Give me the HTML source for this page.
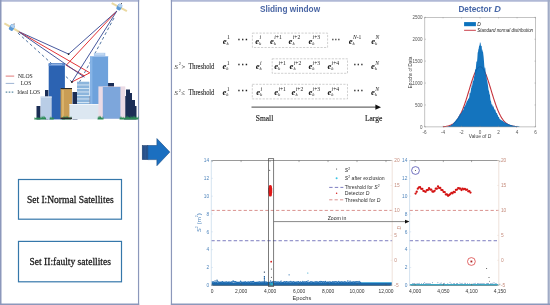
<!DOCTYPE html>
<html><head><meta charset="utf-8"><title>Figure</title>
<style>html,body{margin:0;padding:0;background:#fff;width:550px;height:305px;overflow:hidden}svg{display:block}</style>
</head><body>
<svg width="550" height="305" viewBox="0 0 550 305">
<rect width="550" height="305" fill="#fff"/>
<rect x="0" y="0" width="139" height="305" fill="#fff"/>
<line x1="0" y1="0.9" x2="139.2" y2="0.9" stroke="#b0b9d6" stroke-width="1.7"/>
<line x1="0.75" y1="0" x2="0.75" y2="305" stroke="#8c98bb" stroke-width="1.5"/>
<line x1="138.55" y1="0" x2="138.55" y2="305" stroke="#8c98bb" stroke-width="1.2"/>
<line x1="0" y1="304.3" x2="139.2" y2="304.3" stroke="#8c98bb" stroke-width="1.4"/>
<line x1="17.9" y1="33.0" x2="71.9" y2="82.0" stroke="#3f6797" stroke-width="0.9" stroke-dasharray="3,2.4"/>
<line x1="114.0" y1="18.0" x2="77.4" y2="86.0" stroke="#3f6797" stroke-width="0.9" stroke-dasharray="3,2.4"/>
<rect x="36.5" y="106" width="4" height="13.5" fill="#1b2d55"/>
<rect x="45" y="90" width="3.4" height="29.5" fill="#1b2d55"/>
<rect x="72.5" y="92" width="5" height="27.5" fill="#1b2d55"/>
<rect x="89.5" y="96" width="3" height="14" fill="#1b2d55"/>
<path d="M124 119.5 V96 h2 V89.5 h4 V93 h2 V100 h3 V106 h1.5 V119.5 Z" fill="#1b2d55"/>
<rect x="108" y="83" width="6" height="5" fill="#1b2d55"/>
<rect x="48.7" y="63.4" width="16.2" height="56" fill="#2c63b2"/>
<rect x="48.7" y="63.4" width="16.2" height="2.6" fill="#5d8bd0"/>
<rect x="51" y="64" width="11" height="1" fill="#8fb0e0"/>
<rect x="40.6" y="96.5" width="11.1" height="23" fill="#b9cde6"/>
<rect x="40.6" y="96.5" width="11.1" height="1.2" fill="#d6e2f1"/>
<rect x="60.6" y="88.0" width="11.4" height="30.8" fill="#c99d55"/>
<rect x="60.6" y="88.0" width="11.4" height="1.1" fill="#2a2a2a"/>
<rect x="62" y="90" width="2" height="27" fill="#dbb36a"/>
<rect x="90.2" y="56.0" width="17.9" height="49" fill="#6ea2dc"/>
<rect x="90.2" y="56.0" width="2.2" height="49" fill="#86b4e6"/>
<rect x="93.9" y="52.8" width="11.4" height="3.4" fill="#aecbee"/>
<rect x="95" y="53.6" width="9" height="0.8" fill="#d8e6f6"/>
<rect x="90.2" y="56.0" width="17.9" height="1.0" fill="#9cc0ea"/>
<rect x="77" y="81.7" width="12.4" height="23" fill="#8cb5dc"/>
<rect x="77" y="84.5" width="12.4" height="0.9" fill="#dbe9f5"/>
<rect x="77" y="88" width="12.4" height="0.9" fill="#dbe9f5"/>
<rect x="77" y="91.5" width="12.4" height="0.9" fill="#dbe9f5"/>
<rect x="77" y="95" width="12.4" height="0.9" fill="#dbe9f5"/>
<rect x="77" y="98.5" width="12.4" height="0.9" fill="#dbe9f5"/>
<rect x="77" y="102" width="12.4" height="0.9" fill="#dbe9f5"/>
<rect x="69.4" y="104" width="30" height="15.3" fill="#dce7f1"/>
<rect x="69.4" y="104" width="30" height="1" fill="#f2f6fa"/>
<rect x="98.4" y="86.4" width="26.9" height="32.4" fill="#ebdbe5"/>
<rect x="102.8" y="86.9" width="17.6" height="31.8" fill="#7da6db"/>
<polygon points="34.2,119.4 34.8,116.9 35.4,118.4 36.0,117.2 36.6,118.5 37.2,116.5 37.8,118.3 38.4,117.1 39.0,118.5 39.6,117.3 40.2,118.5 40.8,116.5 41.4,118.2 42.0,115.4 42.6,117.8 43.2,115.6 43.8,117.9 44.4,115.7 45.0,117.9 45.6,116.9 46.2,118.4 45.5,119.4" fill="#2b8a55"/>
<polygon points="49.5,119.4 50.1,116.2 50.7,118.1 51.3,116.8 51.9,118.4 52.5,117.0 53.1,118.4 53.7,117.2 54.3,118.5 53.5,119.4" fill="#2b8a55"/>
<polygon points="62.0,119.4 62.6,116.9 63.2,118.4 63.8,115.4 64.4,117.8 65.0,115.6 65.6,117.9 66.2,115.6 66.8,117.9 67.4,115.6 68.0,117.9 68.6,117.0 69.2,118.4 69.8,116.7 70.4,118.3 71.0,116.0 71.6,118.0 71.0,119.4" fill="#2b8a55"/>
<polygon points="97.5,119.4 98.1,115.8 98.7,118.0 99.3,115.5 99.9,117.8 100.5,115.5 101.1,117.8 101.7,117.2 102.3,118.5 102.9,116.1 103.5,118.1 103.5,119.4" fill="#2b8a55"/>
<polygon points="119.5,119.4 120.1,115.9 120.7,118.0 121.3,116.3 121.9,118.2 122.5,117.0 123.1,118.4 123.7,116.4 124.3,118.2 124.9,117.2 125.5,118.5 126.1,115.3 126.7,117.8 127.3,115.5 127.9,117.8 128.5,116.2 129.1,118.1 129.7,116.7 130.3,118.3 130.9,115.4 131.5,117.8 132.1,116.1 132.7,118.1 133.3,115.5 133.9,117.8 134.5,115.5 135.1,117.9 135.7,116.3 136.3,118.2 136.9,116.5 137.5,118.2 138.1,116.1 138.7,118.1 138.0,119.4" fill="#2b8a55"/>
<rect x="60.5" y="117.6" width="11.5" height="1.6" fill="#2a2a2a"/>
<line x1="17.9" y1="31.2" x2="68.6" y2="54.1" stroke="#3d4f98" stroke-width="0.95" stroke-opacity="1"/>
<line x1="116.8" y1="11.1" x2="68.6" y2="54.1" stroke="#3d4f98" stroke-width="0.95" stroke-opacity="1"/>
<line x1="17.9" y1="31.2" x2="89.8" y2="72.8" stroke="#e0282c" stroke-width="0.95" stroke-opacity="1"/>
<line x1="89.8" y1="72.8" x2="71.9" y2="82.0" stroke="#e0282c" stroke-width="0.95" stroke-opacity="1"/>
<line x1="116.8" y1="11.1" x2="66.2" y2="65.3" stroke="#e0282c" stroke-width="0.95" stroke-opacity="1"/>
<line x1="66.2" y1="65.3" x2="84.4" y2="75.9" stroke="#e0282c" stroke-width="0.95" stroke-opacity="1"/>
<line x1="17.9" y1="31.2" x2="84.4" y2="77.2" stroke="#3d4f98" stroke-width="0.95" stroke-opacity="1"/>
<line x1="116.8" y1="11.1" x2="71.9" y2="82.0" stroke="#3d4f98" stroke-width="0.95" stroke-opacity="1"/>
<circle cx="68.6" cy="54.1" r="0.9" fill="#1a1a1a"/>
<circle cx="71.9" cy="82.0" r="0.9" fill="#1a1a1a"/>
<g transform="translate(11.8,27.6) rotate(30)"><rect x="-8.6" y="-1.0" width="17.2" height="2.0" fill="#e6d292" opacity="0.85"/><rect x="-2.3" y="-3.3" width="4.6" height="6.4" rx="1.4" fill="#5c9ad6"/><rect x="-2.0" y="-3.2" width="4.0" height="3.0" rx="1.2" fill="#b4d2f0"/><circle cx="0.2" cy="-4.2" r="0.6" fill="#445"/></g>
<g transform="translate(119.3,7.2) rotate(28)"><rect x="-8.6" y="-1.0" width="17.2" height="2.0" fill="#e6d292" opacity="0.85"/><rect x="-2.3" y="-3.3" width="4.6" height="6.4" rx="1.4" fill="#5c9ad6"/><rect x="-2.0" y="-3.2" width="4.0" height="3.0" rx="1.2" fill="#b4d2f0"/><circle cx="0.2" cy="-4.2" r="0.6" fill="#445"/></g>
<line x1="5.7" y1="76.1" x2="14.2" y2="76.1" stroke="#e07a7a" stroke-width="1"/>
<line x1="5.7" y1="83.4" x2="14.2" y2="83.4" stroke="#9db3d3" stroke-width="1"/>
<line x1="5.7" y1="92.1" x2="14.2" y2="92.1" stroke="#2f6a8a" stroke-width="1" stroke-dasharray="1.6,1.4"/>
<text x="17.9" y="78.1" font-family='"Liberation Serif", serif' font-size="5.7" fill="#222">NLOS</text>
<text x="20.7" y="85.4" font-family='"Liberation Serif", serif' font-size="5.6" fill="#222">LOS</text>
<text x="17.2" y="94.1" font-family='"Liberation Serif", serif' font-size="5.56" fill="#222">Ideal LOS</text>
<rect x="18.5" y="179.5" width="103" height="39.7" fill="#fff" stroke="#3577aa" stroke-width="1.2"/>
<rect x="18.5" y="241.4" width="103" height="40.4" fill="#fff" stroke="#3577aa" stroke-width="1.2"/>
<text x="26.9" y="202.9" font-family='"Liberation Serif", serif' font-size="10.2" fill="#1a1a1a" stroke="#1a1a1a" stroke-width="0.28" textLength="86.7" lengthAdjust="spacingAndGlyphs">Set I:Normal Satellites</text>
<text x="29.5" y="264.9" font-family='"Liberation Serif", serif' font-size="10.2" fill="#1a1a1a" stroke="#1a1a1a" stroke-width="0.28" textLength="81.4" lengthAdjust="spacingAndGlyphs">Set II:faulty satellites</text>
<rect x="142.2" y="145.5" width="5.6" height="14.1" fill="#27518a" stroke="#1c3a64" stroke-width="0.5"/>
<line x1="145.2" y1="145.6" x2="145.2" y2="159.5" stroke="#3d6aa0" stroke-width="0.45"/>
<path d="M147.8 145.5 H156.9 V138.6 L169.8 152.1 L156.9 165.7 V159.6 H147.8 Z" fill="#1b6fc0" stroke="#1b4d86" stroke-width="0.6"/>
<line x1="170.9" y1="0.9" x2="550" y2="0.9" stroke="#b0b9d6" stroke-width="1.7"/>
<line x1="171.45" y1="0" x2="171.45" y2="305" stroke="#8c98bb" stroke-width="1.2"/>
<line x1="548.7" y1="0" x2="548.7" y2="305" stroke="#a0abc6" stroke-width="2.2"/>
<line x1="170.9" y1="304.3" x2="550" y2="304.3" stroke="#8c98bb" stroke-width="1.4"/>
<text x="259.9" y="11.9" font-family='"Liberation Sans", sans-serif' font-weight="bold" font-size="9.2" fill="#4a66a4" textLength="60.2" lengthAdjust="spacingAndGlyphs">Sliding window</text>
<rect x="252.4" y="33.1" width="75.20000000000002" height="14.399999999999999" fill="none" stroke="#b0b0b0" stroke-width="0.6" stroke-dasharray="2.2,1.3"/>
<text x="222.79999999999998" y="43.6" font-family='"Liberation Serif", serif' font-weight="bold" font-style="italic" font-size="8.9" fill="#1e1e1e">e</text>
<text x="227.0" y="39.2" font-family='"Liberation Serif", serif' font-size="5.6" fill="#1e1e1e">1</text>
<text x="226.6" y="45.1" font-family='"Liberation Serif", serif' font-style="italic" font-size="5.0" fill="#1e1e1e">k</text>
<text x="237.21" y="42.65" font-family='"DejaVu Sans", sans-serif' font-size="11" fill="#1e1e1e" stroke="#1e1e1e" stroke-width="0.2" textLength="11.13" lengthAdjust="spacingAndGlyphs">⋯</text>
<text x="255.2" y="43.6" font-family='"Liberation Serif", serif' font-weight="bold" font-style="italic" font-size="8.9" fill="#1e1e1e">e</text>
<text x="259.4" y="39.2" font-family='"Liberation Serif", serif' font-size="5.6" fill="#1e1e1e"><tspan font-style="italic">i</tspan></text>
<text x="259.0" y="45.1" font-family='"Liberation Serif", serif' font-style="italic" font-size="5.0" fill="#1e1e1e">k</text>
<text x="270.0" y="43.6" font-family='"Liberation Serif", serif' font-weight="bold" font-style="italic" font-size="8.9" fill="#1e1e1e">e</text>
<text x="274.2" y="39.2" font-family='"Liberation Serif", serif' font-size="5.6" fill="#1e1e1e"><tspan font-style="italic">i</tspan>+1</text>
<text x="273.8" y="45.1" font-family='"Liberation Serif", serif' font-style="italic" font-size="5.0" fill="#1e1e1e">k</text>
<text x="288.59999999999997" y="43.6" font-family='"Liberation Serif", serif' font-weight="bold" font-style="italic" font-size="8.9" fill="#1e1e1e">e</text>
<text x="292.79999999999995" y="39.2" font-family='"Liberation Serif", serif' font-size="5.6" fill="#1e1e1e"><tspan font-style="italic">i</tspan>+2</text>
<text x="292.4" y="45.1" font-family='"Liberation Serif", serif' font-style="italic" font-size="5.0" fill="#1e1e1e">k</text>
<text x="308.4" y="43.6" font-family='"Liberation Serif", serif' font-weight="bold" font-style="italic" font-size="8.9" fill="#1e1e1e">e</text>
<text x="312.59999999999997" y="39.2" font-family='"Liberation Serif", serif' font-size="5.6" fill="#1e1e1e"><tspan font-style="italic">i</tspan>+3</text>
<text x="312.2" y="45.1" font-family='"Liberation Serif", serif' font-style="italic" font-size="5.0" fill="#1e1e1e">k</text>
<text x="331.49" y="42.65" font-family='"DejaVu Sans", sans-serif' font-size="11" fill="#1e1e1e" stroke="#1e1e1e" stroke-width="0.2" textLength="8.87" lengthAdjust="spacingAndGlyphs">⋯</text>
<text x="348.7" y="43.6" font-family='"Liberation Serif", serif' font-weight="bold" font-style="italic" font-size="8.9" fill="#1e1e1e">e</text>
<text x="352.9" y="39.2" font-family='"Liberation Serif", serif' font-size="5.6" fill="#1e1e1e"><tspan font-style="italic">N</tspan>-1</text>
<text x="352.5" y="45.1" font-family='"Liberation Serif", serif' font-style="italic" font-size="5.0" fill="#1e1e1e">k</text>
<text x="371.2" y="43.6" font-family='"Liberation Serif", serif' font-weight="bold" font-style="italic" font-size="8.9" fill="#1e1e1e">e</text>
<text x="375.4" y="39.2" font-family='"Liberation Serif", serif' font-size="5.6" fill="#1e1e1e"><tspan font-style="italic">N</tspan></text>
<text x="375.0" y="45.1" font-family='"Liberation Serif", serif' font-style="italic" font-size="5.0" fill="#1e1e1e">k</text>
<text x="174.4" y="68.6" font-family='"Liberation Serif", serif' font-style="italic" font-size="6.8" fill="#1e1e1e">S</text>
<text x="178.7" y="65.2" font-family='"Liberation Serif", serif' font-size="4.2" fill="#1e1e1e">2</text>
<text x="181.5" y="68.6" font-family='"Liberation Serif", serif' font-size="6.8" fill="#1e1e1e">&gt;</text>
<text x="188.4" y="68.6" font-family='"Liberation Serif", serif' font-size="7.3" fill="#1e1e1e" stroke="#1e1e1e" stroke-width="0.1" textLength="25.9" lengthAdjust="spacingAndGlyphs">Threshold</text>
<rect x="272.2" y="58.8" width="75.30000000000001" height="14.5" fill="none" stroke="#b0b0b0" stroke-width="0.6" stroke-dasharray="2.2,1.3"/>
<text x="222.5" y="68.89999999999999" font-family='"Liberation Serif", serif' font-weight="bold" font-style="italic" font-size="8.9" fill="#1e1e1e">e</text>
<text x="226.70000000000002" y="64.5" font-family='"Liberation Serif", serif' font-size="5.6" fill="#1e1e1e">1</text>
<text x="226.3" y="70.39999999999999" font-family='"Liberation Serif", serif' font-style="italic" font-size="5.0" fill="#1e1e1e">k</text>
<text x="237.21" y="67.95" font-family='"DejaVu Sans", sans-serif' font-size="11" fill="#1e1e1e" stroke="#1e1e1e" stroke-width="0.2" textLength="11.13" lengthAdjust="spacingAndGlyphs">⋯</text>
<text x="255.79999999999998" y="68.89999999999999" font-family='"Liberation Serif", serif' font-weight="bold" font-style="italic" font-size="8.9" fill="#1e1e1e">e</text>
<text x="260.0" y="64.5" font-family='"Liberation Serif", serif' font-size="5.6" fill="#1e1e1e"><tspan font-style="italic">i</tspan></text>
<text x="259.6" y="70.39999999999999" font-family='"Liberation Serif", serif' font-style="italic" font-size="5.0" fill="#1e1e1e">k</text>
<text x="274.2" y="68.89999999999999" font-family='"Liberation Serif", serif' font-weight="bold" font-style="italic" font-size="8.9" fill="#1e1e1e">e</text>
<text x="278.4" y="64.5" font-family='"Liberation Serif", serif' font-size="5.6" fill="#1e1e1e"><tspan font-style="italic">i</tspan>+1</text>
<text x="278.0" y="70.39999999999999" font-family='"Liberation Serif", serif' font-style="italic" font-size="5.0" fill="#1e1e1e">k</text>
<text x="289.59999999999997" y="68.89999999999999" font-family='"Liberation Serif", serif' font-weight="bold" font-style="italic" font-size="8.9" fill="#1e1e1e">e</text>
<text x="293.79999999999995" y="64.5" font-family='"Liberation Serif", serif' font-size="5.6" fill="#1e1e1e"><tspan font-style="italic">i</tspan>+2</text>
<text x="293.4" y="70.39999999999999" font-family='"Liberation Serif", serif' font-style="italic" font-size="5.0" fill="#1e1e1e">k</text>
<text x="308.4" y="68.89999999999999" font-family='"Liberation Serif", serif' font-weight="bold" font-style="italic" font-size="8.9" fill="#1e1e1e">e</text>
<text x="312.59999999999997" y="64.5" font-family='"Liberation Serif", serif' font-size="5.6" fill="#1e1e1e"><tspan font-style="italic">i</tspan>+3</text>
<text x="312.2" y="70.39999999999999" font-family='"Liberation Serif", serif' font-style="italic" font-size="5.0" fill="#1e1e1e">k</text>
<text x="327.4" y="68.89999999999999" font-family='"Liberation Serif", serif' font-weight="bold" font-style="italic" font-size="8.9" fill="#1e1e1e">e</text>
<text x="331.59999999999997" y="64.5" font-family='"Liberation Serif", serif' font-size="5.6" fill="#1e1e1e"><tspan font-style="italic">i</tspan>+4</text>
<text x="331.2" y="70.39999999999999" font-family='"Liberation Serif", serif' font-style="italic" font-size="5.0" fill="#1e1e1e">k</text>
<text x="353.30" y="67.95" font-family='"DejaVu Sans", sans-serif' font-size="11" fill="#1e1e1e" stroke="#1e1e1e" stroke-width="0.2" textLength="10.42" lengthAdjust="spacingAndGlyphs">⋯</text>
<text x="371.0" y="68.89999999999999" font-family='"Liberation Serif", serif' font-weight="bold" font-style="italic" font-size="8.9" fill="#1e1e1e">e</text>
<text x="375.2" y="64.5" font-family='"Liberation Serif", serif' font-size="5.6" fill="#1e1e1e"><tspan font-style="italic">N</tspan></text>
<text x="374.8" y="70.39999999999999" font-family='"Liberation Serif", serif' font-style="italic" font-size="5.0" fill="#1e1e1e">k</text>
<text x="174.4" y="95.1" font-family='"Liberation Serif", serif' font-style="italic" font-size="6.8" fill="#1e1e1e">S</text>
<text x="178.7" y="91.7" font-family='"Liberation Serif", serif' font-size="4.2" fill="#1e1e1e">2</text>
<text x="181.3" y="95.1" font-family='"Liberation Serif", serif' font-size="6.8" fill="#1e1e1e">≤</text>
<text x="188.4" y="95.1" font-family='"Liberation Serif", serif' font-size="7.3" fill="#1e1e1e" stroke="#1e1e1e" stroke-width="0.1" textLength="25.9" lengthAdjust="spacingAndGlyphs">Threshold</text>
<rect x="252.3" y="84.3" width="95.19999999999999" height="14.600000000000009" fill="none" stroke="#b0b0b0" stroke-width="0.6" stroke-dasharray="2.2,1.3"/>
<text x="222.5" y="94.89999999999999" font-family='"Liberation Serif", serif' font-weight="bold" font-style="italic" font-size="8.9" fill="#1e1e1e">e</text>
<text x="226.70000000000002" y="90.5" font-family='"Liberation Serif", serif' font-size="5.6" fill="#1e1e1e">1</text>
<text x="226.3" y="96.39999999999999" font-family='"Liberation Serif", serif' font-style="italic" font-size="5.0" fill="#1e1e1e">k</text>
<text x="237.21" y="93.95" font-family='"DejaVu Sans", sans-serif' font-size="11" fill="#1e1e1e" stroke="#1e1e1e" stroke-width="0.2" textLength="11.13" lengthAdjust="spacingAndGlyphs">⋯</text>
<text x="256.2" y="94.89999999999999" font-family='"Liberation Serif", serif' font-weight="bold" font-style="italic" font-size="8.9" fill="#1e1e1e">e</text>
<text x="260.4" y="90.5" font-family='"Liberation Serif", serif' font-size="5.6" fill="#1e1e1e"><tspan font-style="italic">i</tspan></text>
<text x="260.0" y="96.39999999999999" font-family='"Liberation Serif", serif' font-style="italic" font-size="5.0" fill="#1e1e1e">k</text>
<text x="274.2" y="94.89999999999999" font-family='"Liberation Serif", serif' font-weight="bold" font-style="italic" font-size="8.9" fill="#1e1e1e">e</text>
<text x="278.4" y="90.5" font-family='"Liberation Serif", serif' font-size="5.6" fill="#1e1e1e"><tspan font-style="italic">i</tspan>+1</text>
<text x="278.0" y="96.39999999999999" font-family='"Liberation Serif", serif' font-style="italic" font-size="5.0" fill="#1e1e1e">k</text>
<text x="291.59999999999997" y="94.89999999999999" font-family='"Liberation Serif", serif' font-weight="bold" font-style="italic" font-size="8.9" fill="#1e1e1e">e</text>
<text x="295.79999999999995" y="90.5" font-family='"Liberation Serif", serif' font-size="5.6" fill="#1e1e1e"><tspan font-style="italic">i</tspan>+2</text>
<text x="295.4" y="96.39999999999999" font-family='"Liberation Serif", serif' font-style="italic" font-size="5.0" fill="#1e1e1e">k</text>
<text x="308.4" y="94.89999999999999" font-family='"Liberation Serif", serif' font-weight="bold" font-style="italic" font-size="8.9" fill="#1e1e1e">e</text>
<text x="312.59999999999997" y="90.5" font-family='"Liberation Serif", serif' font-size="5.6" fill="#1e1e1e"><tspan font-style="italic">i</tspan>+3</text>
<text x="312.2" y="96.39999999999999" font-family='"Liberation Serif", serif' font-style="italic" font-size="5.0" fill="#1e1e1e">k</text>
<text x="327.4" y="94.89999999999999" font-family='"Liberation Serif", serif' font-weight="bold" font-style="italic" font-size="8.9" fill="#1e1e1e">e</text>
<text x="331.59999999999997" y="90.5" font-family='"Liberation Serif", serif' font-size="5.6" fill="#1e1e1e"><tspan font-style="italic">i</tspan>+4</text>
<text x="331.2" y="96.39999999999999" font-family='"Liberation Serif", serif' font-style="italic" font-size="5.0" fill="#1e1e1e">k</text>
<text x="353.30" y="93.95" font-family='"DejaVu Sans", sans-serif' font-size="11" fill="#1e1e1e" stroke="#1e1e1e" stroke-width="0.2" textLength="10.42" lengthAdjust="spacingAndGlyphs">⋯</text>
<text x="371.0" y="94.89999999999999" font-family='"Liberation Serif", serif' font-weight="bold" font-style="italic" font-size="8.9" fill="#1e1e1e">e</text>
<text x="375.2" y="90.5" font-family='"Liberation Serif", serif' font-size="5.6" fill="#1e1e1e"><tspan font-style="italic">N</tspan></text>
<text x="374.8" y="96.39999999999999" font-family='"Liberation Serif", serif' font-style="italic" font-size="5.0" fill="#1e1e1e">k</text>
<line x1="251.5" y1="107.2" x2="377" y2="107.2" stroke="#6a6a6a" stroke-width="1.25"/>
<path d="M381.0 107.2 L375.4 104.5 L375.4 109.8 Z" fill="#111"/>
<text x="255.8" y="121.1" font-family='"Liberation Serif", serif' font-size="7.8" fill="#1e1e1e" stroke="#1e1e1e" stroke-width="0.15" textLength="17.5" lengthAdjust="spacingAndGlyphs">Small</text>
<text x="364.9" y="121.1" font-family='"Liberation Serif", serif' font-size="7.8" fill="#1e1e1e" stroke="#1e1e1e" stroke-width="0.15" textLength="17.5" lengthAdjust="spacingAndGlyphs">Large</text>
<text x="458.4" y="11.7" font-family='"Liberation Sans", sans-serif' font-weight="bold" font-size="9.2" fill="#4767a8" textLength="33.4" lengthAdjust="spacingAndGlyphs">Detector</text>
<text x="494.2" y="11.7" font-family='"Liberation Sans", sans-serif' font-weight="bold" font-style="italic" font-size="9.2" fill="#4767a8">D</text>
<polyline points="443.00,126.68 443.37,126.65 443.74,126.62 444.11,126.59 444.48,126.56 444.85,126.52 445.22,126.48 445.59,126.43 445.96,126.38 446.33,126.32 446.70,126.26 447.07,126.19 447.44,126.12 447.81,126.04 448.18,125.95 448.55,125.86 448.92,125.75 449.29,125.64 449.66,125.52 450.03,125.39 450.40,125.24 450.77,125.09 451.14,124.92 451.51,124.75 451.88,124.55 452.25,124.35 452.62,124.12 452.99,123.89 453.36,123.63 453.73,123.36 454.10,123.07 454.47,122.76 454.84,122.43 455.21,122.08 455.58,121.70 455.95,121.31 456.32,120.89 456.69,120.45 457.06,119.98 457.43,119.48 457.80,118.96 458.17,118.42 458.54,117.84 458.91,117.24 459.28,116.61 459.65,115.95 460.02,115.26 460.39,114.54 460.76,113.79 461.13,113.01 461.50,112.20 461.87,111.36 462.24,110.49 462.61,109.60 462.98,108.67 463.35,107.71 463.72,106.73 464.09,105.72 464.46,104.69 464.83,103.63 465.20,102.55 465.57,101.44 465.94,100.32 466.31,99.18 466.68,98.01 467.05,96.84 467.42,95.65 467.79,94.45 468.16,93.24 468.53,92.03 468.90,90.81 469.27,89.60 469.64,88.38 470.01,87.17 470.38,85.96 470.75,84.77 471.12,83.59 471.49,82.43 471.86,81.28 472.23,80.16 472.60,79.07 472.97,78.00 473.34,76.97 473.71,75.97 474.08,75.01 474.45,74.08 474.82,73.21 475.19,72.38 475.56,71.59 475.93,70.86 476.30,70.19 476.67,69.57 477.04,69.00 477.41,68.50 477.78,68.06 478.15,67.68 478.52,67.36 478.89,67.11 479.26,66.92 479.63,66.81 480.00,66.75 480.37,66.77 480.74,66.85 481.11,67.00 481.48,67.22 481.85,67.50 482.22,67.84 482.59,68.25 482.96,68.72 483.33,69.25 483.70,69.84 484.07,70.49 484.44,71.19 484.81,71.95 485.18,72.75 485.55,73.60 485.92,74.50 486.29,75.44 486.66,76.42 487.03,77.44 487.40,78.49 487.77,79.57 488.14,80.67 488.51,81.81 488.88,82.96 489.25,84.13 489.62,85.32 489.99,86.52 490.36,87.72 490.73,88.94 491.10,90.15 491.47,91.37 491.84,92.59 492.21,93.80 492.58,95.00 492.95,96.20 493.32,97.38 493.69,98.55 494.06,99.70 494.43,100.84 494.80,101.95 495.17,103.05 495.54,104.12 495.91,105.17 496.28,106.19 496.65,107.19 497.02,108.16 497.39,109.10 497.76,110.01 498.13,110.90 498.50,111.75 498.87,112.58 499.24,113.37 499.61,114.14 499.98,114.87 500.35,115.58 500.72,116.25 501.09,116.90 501.46,117.52 501.83,118.11 502.20,118.67 502.57,119.21 502.94,119.71 503.31,120.20 503.68,120.65 504.05,121.08 504.42,121.49 504.79,121.88 505.16,122.24 505.53,122.58 505.90,122.90 506.27,123.20 506.64,123.49 507.01,123.75 507.38,124.00 507.75,124.23 508.12,124.44 508.49,124.64 508.86,124.83 509.23,125.00 509.60,125.16 509.97,125.31 510.34,125.45 510.71,125.58 511.08,125.69 511.45,125.80 511.82,125.90 512.19,125.99 512.56,126.08 512.93,126.15 513.30,126.22 513.67,126.29 514.04,126.35 514.41,126.40 514.78,126.45 515.15,126.50 515.52,126.54 515.89,126.57 516.26,126.61 516.63,126.64 517.00,126.67" fill="none" stroke="#c5323b" stroke-width="1.1"/>
<path d="M447.00,126.9 L447.00,126.90 L447.33,126.79 L447.66,126.68 L447.99,126.57 L448.32,126.46 L448.65,126.34 L448.98,126.21 L449.31,126.08 L449.64,125.94 L449.97,125.81 L450.30,125.68 L450.63,125.51 L450.96,125.28 L451.29,125.05 L451.62,124.76 L451.95,124.60 L452.28,124.32 L452.61,124.17 L452.94,123.88 L453.27,123.24 L453.60,122.80 L453.93,122.79 L454.26,122.08 L454.59,121.65 L454.92,121.74 L455.25,120.98 L455.58,120.86 L455.91,120.18 L456.24,119.91 L456.57,119.04 L456.90,119.00 L457.23,118.77 L457.56,117.93 L457.89,117.70 L458.22,117.15 L458.55,115.92 L458.88,116.32 L459.21,115.63 L459.54,114.74 L459.87,113.85 L460.20,114.59 L460.53,113.47 L460.86,113.36 L461.19,113.13 L461.52,112.34 L461.85,112.22 L462.18,110.72 L462.51,110.99 L462.84,109.77 L463.17,110.28 L463.50,109.62 L463.83,107.23 L464.16,106.63 L464.49,106.14 L464.82,107.32 L465.15,105.34 L465.48,105.18 L465.81,103.64 L466.14,103.38 L466.47,102.15 L466.80,101.15 L467.13,100.99 L467.46,100.13 L467.79,100.42 L468.12,98.91 L468.45,99.01 L468.78,98.01 L469.11,97.75 L469.44,95.80 L469.77,92.36 L470.10,93.61 L470.43,92.55 L470.76,90.92 L471.09,88.29 L471.42,87.77 L471.75,84.40 L472.08,85.98 L472.41,83.69 L472.74,81.26 L473.07,79.03 L473.40,81.22 L473.73,80.54 L474.06,75.29 L474.39,77.14 L474.72,73.68 L475.05,70.11 L475.38,69.05 L475.71,69.44 L476.04,65.85 L476.37,62.08 L476.70,61.19 L477.03,61.69 L477.36,57.99 L477.69,52.56 L478.02,51.90 L478.35,49.46 L478.68,48.67 L479.01,46.33 L479.34,45.82 L479.67,44.80 L480.00,41.99 L480.33,42.67 L480.66,43.50 L480.99,46.08 L481.32,46.00 L481.65,45.41 L481.98,50.85 L482.31,48.97 L482.64,51.65 L482.97,51.58 L483.30,54.17 L483.63,56.93 L483.96,60.98 L484.29,65.73 L484.62,68.92 L484.95,66.89 L485.28,68.19 L485.61,72.03 L485.94,75.02 L486.27,74.35 L486.60,77.35 L486.93,80.05 L487.26,80.95 L487.59,83.26 L487.92,85.15 L488.25,87.52 L488.58,90.45 L488.91,90.52 L489.24,92.21 L489.57,95.14 L489.90,93.85 L490.23,97.93 L490.56,100.52 L490.89,100.87 L491.22,102.31 L491.55,105.06 L491.88,104.06 L492.21,104.45 L492.54,105.62 L492.87,106.79 L493.20,105.85 L493.53,106.91 L493.86,107.46 L494.19,109.10 L494.52,108.74 L494.85,110.25 L495.18,109.52 L495.51,110.54 L495.84,111.80 L496.17,112.88 L496.50,112.79 L496.83,113.10 L497.16,113.64 L497.49,114.88 L497.82,114.99 L498.15,116.40 L498.48,116.99 L498.81,116.79 L499.14,117.49 L499.47,118.63 L499.80,119.03 L500.13,119.75 L500.46,119.61 L500.79,119.62 L501.12,119.95 L501.45,120.54 L501.78,120.32 L502.11,120.56 L502.44,120.80 L502.77,120.99 L503.10,121.17 L503.43,121.70 L503.76,121.39 L504.09,121.49 L504.42,122.24 L504.75,122.38 L505.08,122.62 L505.41,122.50 L505.74,122.95 L506.07,123.12 L506.40,122.97 L506.73,123.39 L507.06,123.61 L507.39,123.72 L507.72,123.85 L508.05,123.94 L508.38,124.07 L508.71,124.14 L509.04,124.20 L509.37,124.46 L509.70,124.48 L510.03,124.73 L510.36,124.64 L510.69,124.96 L511.02,124.97 L511.35,125.07 L511.68,125.18 L512.01,125.28 L512.34,125.39 L512.67,125.49 L513.00,125.60 L513.33,125.65 L513.66,125.70 L513.99,125.74 L514.32,125.79 L514.65,125.84 L514.98,125.89 L515.31,125.94 L515.64,125.98 L515.97,126.03 L516.30,126.08 L516.63,126.13 L516.96,126.18 L517.29,126.22 L517.62,126.27 L517.95,126.32 L518.28,126.37 L518.61,126.44 L518.94,126.55 L519.27,126.66 L519.60,126.77 L519.93,126.88 L520.0,126.9 Z" fill="#0068b8" fill-opacity="0.92"/>
<rect x="424.8" y="17.3" width="110.80000000000001" height="109.60000000000001" fill="none" stroke="#9c9c9c" stroke-width="0.6"/>
<line x1="424.8" y1="126.90" x2="425.90000000000003" y2="126.90" stroke="#8a8a8a" stroke-width="0.5"/>
<line x1="535.6" y1="126.90" x2="534.5" y2="126.90" stroke="#8a8a8a" stroke-width="0.5"/>
<text x="422.6" y="128.90" text-anchor="end" font-family='"Liberation Sans", sans-serif' font-size="4.5" fill="#555">0</text>
<line x1="424.8" y1="104.98" x2="425.90000000000003" y2="104.98" stroke="#8a8a8a" stroke-width="0.5"/>
<line x1="535.6" y1="104.98" x2="534.5" y2="104.98" stroke="#8a8a8a" stroke-width="0.5"/>
<text x="422.6" y="106.98" text-anchor="end" font-family='"Liberation Sans", sans-serif' font-size="4.5" fill="#555">500</text>
<line x1="424.8" y1="83.06" x2="425.90000000000003" y2="83.06" stroke="#8a8a8a" stroke-width="0.5"/>
<line x1="535.6" y1="83.06" x2="534.5" y2="83.06" stroke="#8a8a8a" stroke-width="0.5"/>
<text x="422.6" y="85.06" text-anchor="end" font-family='"Liberation Sans", sans-serif' font-size="4.5" fill="#555">1000</text>
<line x1="424.8" y1="61.14" x2="425.90000000000003" y2="61.14" stroke="#8a8a8a" stroke-width="0.5"/>
<line x1="535.6" y1="61.14" x2="534.5" y2="61.14" stroke="#8a8a8a" stroke-width="0.5"/>
<text x="422.6" y="63.14" text-anchor="end" font-family='"Liberation Sans", sans-serif' font-size="4.5" fill="#555">1500</text>
<line x1="424.8" y1="39.22" x2="425.90000000000003" y2="39.22" stroke="#8a8a8a" stroke-width="0.5"/>
<line x1="535.6" y1="39.22" x2="534.5" y2="39.22" stroke="#8a8a8a" stroke-width="0.5"/>
<text x="422.6" y="41.22" text-anchor="end" font-family='"Liberation Sans", sans-serif' font-size="4.5" fill="#555">2000</text>
<line x1="424.8" y1="17.30" x2="425.90000000000003" y2="17.30" stroke="#8a8a8a" stroke-width="0.5"/>
<line x1="535.6" y1="17.30" x2="534.5" y2="17.30" stroke="#8a8a8a" stroke-width="0.5"/>
<text x="422.6" y="19.30" text-anchor="end" font-family='"Liberation Sans", sans-serif' font-size="4.5" fill="#555">2500</text>
<line x1="424.55" y1="126.9" x2="424.55" y2="125.80000000000001" stroke="#8a8a8a" stroke-width="0.5"/>
<line x1="424.55" y1="17.3" x2="424.55" y2="18.400000000000002" stroke="#8a8a8a" stroke-width="0.5"/>
<text x="424.55" y="134.0" text-anchor="middle" font-family='"Liberation Sans", sans-serif' font-size="4.6" fill="#555">-6</text>
<line x1="443.05" y1="126.9" x2="443.05" y2="125.80000000000001" stroke="#8a8a8a" stroke-width="0.5"/>
<line x1="443.05" y1="17.3" x2="443.05" y2="18.400000000000002" stroke="#8a8a8a" stroke-width="0.5"/>
<text x="443.05" y="134.0" text-anchor="middle" font-family='"Liberation Sans", sans-serif' font-size="4.6" fill="#555">-4</text>
<line x1="461.55" y1="126.9" x2="461.55" y2="125.80000000000001" stroke="#8a8a8a" stroke-width="0.5"/>
<line x1="461.55" y1="17.3" x2="461.55" y2="18.400000000000002" stroke="#8a8a8a" stroke-width="0.5"/>
<text x="461.55" y="134.0" text-anchor="middle" font-family='"Liberation Sans", sans-serif' font-size="4.6" fill="#555">-2</text>
<line x1="480.05" y1="126.9" x2="480.05" y2="125.80000000000001" stroke="#8a8a8a" stroke-width="0.5"/>
<line x1="480.05" y1="17.3" x2="480.05" y2="18.400000000000002" stroke="#8a8a8a" stroke-width="0.5"/>
<text x="480.05" y="134.0" text-anchor="middle" font-family='"Liberation Sans", sans-serif' font-size="4.6" fill="#555">0</text>
<line x1="498.55" y1="126.9" x2="498.55" y2="125.80000000000001" stroke="#8a8a8a" stroke-width="0.5"/>
<line x1="498.55" y1="17.3" x2="498.55" y2="18.400000000000002" stroke="#8a8a8a" stroke-width="0.5"/>
<text x="498.55" y="134.0" text-anchor="middle" font-family='"Liberation Sans", sans-serif' font-size="4.6" fill="#555">2</text>
<line x1="517.05" y1="126.9" x2="517.05" y2="125.80000000000001" stroke="#8a8a8a" stroke-width="0.5"/>
<line x1="517.05" y1="17.3" x2="517.05" y2="18.400000000000002" stroke="#8a8a8a" stroke-width="0.5"/>
<text x="517.05" y="134.0" text-anchor="middle" font-family='"Liberation Sans", sans-serif' font-size="4.6" fill="#555">4</text>
<line x1="535.55" y1="126.9" x2="535.55" y2="125.80000000000001" stroke="#8a8a8a" stroke-width="0.5"/>
<line x1="535.55" y1="17.3" x2="535.55" y2="18.400000000000002" stroke="#8a8a8a" stroke-width="0.5"/>
<text x="535.55" y="134.0" text-anchor="middle" font-family='"Liberation Sans", sans-serif' font-size="4.6" fill="#555">6</text>
<text x="480.0" y="138.1" text-anchor="middle" font-family='"Liberation Sans", sans-serif' font-size="4.9" fill="#444">Value of <tspan font-style="italic">D</tspan></text>
<text transform="translate(412.4,72.5) rotate(-90)" text-anchor="middle" font-family='"Liberation Sans", sans-serif' font-size="4.6" fill="#444">Epochs of Data</text>
<rect x="464.1" y="22.1" width="11.8" height="4.1" fill="#0b72bd"/>
<line x1="464.1" y1="30.3" x2="475.9" y2="30.3" stroke="#c63640" stroke-width="0.95"/>
<text x="477.3" y="26.0" font-family='"Liberation Sans", sans-serif' font-style="italic" font-size="4.9" fill="#222">D</text>
<text x="477.3" y="32.1" font-family='"Liberation Sans", sans-serif' font-style="italic" font-size="4.9" fill="#222" textLength="55.8" lengthAdjust="spacingAndGlyphs">Standard normal distribution</text>
<line x1="211.3" y1="240.73" x2="392.2" y2="240.73" stroke="#7676bd" stroke-width="0.95" stroke-dasharray="3.4,2.2"/>
<line x1="211.3" y1="210.42" x2="392.2" y2="210.42" stroke="#cc6e6a" stroke-width="0.75" stroke-dasharray="3.2,2.2"/>
<line x1="409.6" y1="240.73" x2="498.8" y2="240.73" stroke="#7676bd" stroke-width="0.95" stroke-dasharray="3.4,2.2"/>
<line x1="409.6" y1="210.42" x2="498.8" y2="210.42" stroke="#cc6e6a" stroke-width="0.75" stroke-dasharray="3.2,2.2"/>
<rect x="211.60000000000002" y="282.5" width="180.29999999999998" height="3.2" fill="#1a69ae"/>
<rect x="361.3" y="282.0" width="30.599999999999966" height="0.8" fill="#4fb2dc"/>
<g fill="#1d6cb3"><circle cx="212.10" cy="281.89" r="0.7"/><circle cx="212.85" cy="282.31" r="0.7"/><circle cx="213.60" cy="281.84" r="0.7"/><circle cx="214.35" cy="282.47" r="0.7"/><circle cx="215.10" cy="280.99" r="0.7"/><circle cx="215.85" cy="282.43" r="0.7"/><circle cx="216.60" cy="282.29" r="0.7"/><circle cx="217.35" cy="281.13" r="0.7"/><circle cx="218.10" cy="282.13" r="0.7"/><circle cx="218.85" cy="282.01" r="0.7"/><circle cx="219.60" cy="282.33" r="0.7"/><circle cx="220.35" cy="282.47" r="0.7"/><circle cx="221.10" cy="281.95" r="0.7"/><circle cx="221.85" cy="282.40" r="0.7"/><circle cx="222.60" cy="281.79" r="0.7"/><circle cx="223.35" cy="282.41" r="0.7"/><circle cx="224.10" cy="282.11" r="0.7"/><circle cx="224.85" cy="282.39" r="0.7"/><circle cx="225.60" cy="282.08" r="0.7"/><circle cx="226.35" cy="281.84" r="0.7"/><circle cx="227.10" cy="282.45" r="0.7"/><circle cx="227.85" cy="282.31" r="0.7"/><circle cx="228.60" cy="282.22" r="0.7"/><circle cx="229.35" cy="282.09" r="0.7"/><circle cx="230.10" cy="282.16" r="0.7"/><circle cx="230.85" cy="282.50" r="0.7"/><circle cx="231.60" cy="281.91" r="0.7"/><circle cx="232.35" cy="281.90" r="0.7"/><circle cx="233.10" cy="280.97" r="0.7"/><circle cx="233.85" cy="281.38" r="0.7"/><circle cx="234.60" cy="281.87" r="0.7"/><circle cx="235.35" cy="281.67" r="0.7"/><circle cx="236.10" cy="282.17" r="0.7"/><circle cx="236.85" cy="282.19" r="0.7"/><circle cx="237.60" cy="282.39" r="0.7"/><circle cx="238.35" cy="282.35" r="0.7"/><circle cx="239.10" cy="282.30" r="0.7"/><circle cx="239.85" cy="282.34" r="0.7"/><circle cx="240.60" cy="281.18" r="0.7"/><circle cx="241.35" cy="282.24" r="0.7"/><circle cx="242.10" cy="282.27" r="0.7"/><circle cx="242.85" cy="282.36" r="0.7"/><circle cx="243.60" cy="282.32" r="0.7"/><circle cx="244.35" cy="282.46" r="0.7"/><circle cx="245.10" cy="281.64" r="0.7"/><circle cx="245.85" cy="282.31" r="0.7"/><circle cx="246.60" cy="282.40" r="0.7"/><circle cx="247.35" cy="282.11" r="0.7"/><circle cx="248.10" cy="282.21" r="0.7"/><circle cx="248.85" cy="281.85" r="0.7"/><circle cx="249.60" cy="282.43" r="0.7"/><circle cx="250.35" cy="281.88" r="0.7"/><circle cx="251.10" cy="281.60" r="0.7"/><circle cx="251.85" cy="282.20" r="0.7"/><circle cx="252.60" cy="281.74" r="0.7"/><circle cx="253.35" cy="281.52" r="0.7"/><circle cx="254.10" cy="282.18" r="0.7"/><circle cx="254.85" cy="282.39" r="0.7"/><circle cx="255.60" cy="282.41" r="0.7"/><circle cx="256.35" cy="282.39" r="0.7"/><circle cx="257.10" cy="282.13" r="0.7"/><circle cx="257.85" cy="282.42" r="0.7"/><circle cx="258.60" cy="282.08" r="0.7"/><circle cx="259.35" cy="281.87" r="0.7"/><circle cx="260.10" cy="282.19" r="0.7"/><circle cx="260.85" cy="282.23" r="0.7"/><circle cx="261.60" cy="282.11" r="0.7"/><circle cx="262.35" cy="282.16" r="0.7"/><circle cx="263.10" cy="282.07" r="0.7"/><circle cx="263.85" cy="282.18" r="0.7"/><circle cx="264.60" cy="282.15" r="0.7"/><circle cx="265.35" cy="282.08" r="0.7"/><circle cx="266.10" cy="281.86" r="0.7"/><circle cx="266.85" cy="282.41" r="0.7"/><circle cx="267.60" cy="282.48" r="0.7"/><circle cx="268.35" cy="282.40" r="0.7"/><circle cx="269.10" cy="282.48" r="0.7"/><circle cx="269.85" cy="282.45" r="0.7"/><circle cx="270.60" cy="280.97" r="0.7"/><circle cx="271.35" cy="282.27" r="0.7"/><circle cx="272.10" cy="282.44" r="0.7"/><circle cx="272.85" cy="281.72" r="0.7"/><circle cx="273.60" cy="282.05" r="0.7"/><circle cx="274.35" cy="281.89" r="0.7"/><circle cx="275.10" cy="281.73" r="0.7"/><circle cx="275.85" cy="282.06" r="0.7"/><circle cx="276.60" cy="282.15" r="0.7"/><circle cx="277.35" cy="282.15" r="0.7"/><circle cx="278.10" cy="281.87" r="0.7"/><circle cx="278.85" cy="282.16" r="0.7"/><circle cx="279.60" cy="282.43" r="0.7"/><circle cx="280.35" cy="282.01" r="0.7"/><circle cx="281.10" cy="281.12" r="0.7"/><circle cx="281.85" cy="282.50" r="0.7"/><circle cx="282.60" cy="282.38" r="0.7"/><circle cx="283.35" cy="282.40" r="0.7"/><circle cx="284.10" cy="281.73" r="0.7"/><circle cx="284.85" cy="281.90" r="0.7"/><circle cx="285.60" cy="282.26" r="0.7"/><circle cx="286.35" cy="281.79" r="0.7"/><circle cx="287.10" cy="281.89" r="0.7"/><circle cx="287.85" cy="282.09" r="0.7"/><circle cx="288.60" cy="282.16" r="0.7"/><circle cx="289.35" cy="281.84" r="0.7"/><circle cx="290.10" cy="282.12" r="0.7"/><circle cx="290.85" cy="281.46" r="0.7"/><circle cx="291.60" cy="282.12" r="0.7"/><circle cx="292.35" cy="282.28" r="0.7"/><circle cx="293.10" cy="281.99" r="0.7"/><circle cx="293.85" cy="281.67" r="0.7"/><circle cx="294.60" cy="282.45" r="0.7"/><circle cx="295.35" cy="282.20" r="0.7"/><circle cx="296.10" cy="282.38" r="0.7"/><circle cx="296.85" cy="282.00" r="0.7"/><circle cx="297.60" cy="282.12" r="0.7"/><circle cx="298.35" cy="281.62" r="0.7"/><circle cx="299.10" cy="282.39" r="0.7"/><circle cx="299.85" cy="282.21" r="0.7"/><circle cx="300.60" cy="281.87" r="0.7"/><circle cx="301.35" cy="282.47" r="0.7"/><circle cx="302.10" cy="282.41" r="0.7"/><circle cx="302.85" cy="281.57" r="0.7"/><circle cx="303.60" cy="282.35" r="0.7"/><circle cx="304.35" cy="281.83" r="0.7"/><circle cx="305.10" cy="282.30" r="0.7"/><circle cx="305.85" cy="281.99" r="0.7"/><circle cx="306.60" cy="281.75" r="0.7"/><circle cx="307.35" cy="282.32" r="0.7"/><circle cx="308.10" cy="280.87" r="0.7"/><circle cx="308.85" cy="282.36" r="0.7"/><circle cx="309.60" cy="282.44" r="0.7"/><circle cx="310.35" cy="282.04" r="0.7"/><circle cx="311.10" cy="281.87" r="0.7"/><circle cx="311.85" cy="281.95" r="0.7"/><circle cx="312.60" cy="282.32" r="0.7"/><circle cx="313.35" cy="282.38" r="0.7"/><circle cx="314.10" cy="282.12" r="0.7"/><circle cx="314.85" cy="282.10" r="0.7"/><circle cx="315.60" cy="282.04" r="0.7"/><circle cx="316.35" cy="282.05" r="0.7"/><circle cx="317.10" cy="281.98" r="0.7"/><circle cx="317.85" cy="282.31" r="0.7"/><circle cx="318.60" cy="282.34" r="0.7"/><circle cx="319.35" cy="281.59" r="0.7"/><circle cx="320.10" cy="282.25" r="0.7"/><circle cx="320.85" cy="281.46" r="0.7"/><circle cx="321.60" cy="281.64" r="0.7"/><circle cx="322.35" cy="282.30" r="0.7"/><circle cx="323.10" cy="281.70" r="0.7"/><circle cx="323.85" cy="281.91" r="0.7"/><circle cx="324.60" cy="282.27" r="0.7"/><circle cx="325.35" cy="281.38" r="0.7"/><circle cx="326.10" cy="282.41" r="0.7"/><circle cx="326.85" cy="282.21" r="0.7"/><circle cx="327.60" cy="282.32" r="0.7"/><circle cx="328.35" cy="282.28" r="0.7"/><circle cx="329.10" cy="282.09" r="0.7"/><circle cx="329.85" cy="281.85" r="0.7"/><circle cx="330.60" cy="282.30" r="0.7"/><circle cx="331.35" cy="282.43" r="0.7"/><circle cx="332.10" cy="282.30" r="0.7"/><circle cx="332.85" cy="281.72" r="0.7"/><circle cx="333.60" cy="282.14" r="0.7"/><circle cx="334.35" cy="281.97" r="0.7"/><circle cx="335.10" cy="281.89" r="0.7"/><circle cx="335.85" cy="281.61" r="0.7"/><circle cx="336.60" cy="281.90" r="0.7"/><circle cx="337.35" cy="282.38" r="0.7"/><circle cx="338.10" cy="281.92" r="0.7"/><circle cx="338.85" cy="281.54" r="0.7"/><circle cx="339.60" cy="282.38" r="0.7"/><circle cx="340.35" cy="282.30" r="0.7"/><circle cx="341.10" cy="281.89" r="0.7"/><circle cx="341.85" cy="281.93" r="0.7"/><circle cx="342.60" cy="282.25" r="0.7"/><circle cx="343.35" cy="282.15" r="0.7"/><circle cx="344.10" cy="282.32" r="0.7"/><circle cx="344.85" cy="281.66" r="0.7"/><circle cx="345.60" cy="282.13" r="0.7"/><circle cx="346.35" cy="282.37" r="0.7"/><circle cx="347.10" cy="282.20" r="0.7"/><circle cx="347.85" cy="281.02" r="0.7"/><circle cx="348.60" cy="282.38" r="0.7"/><circle cx="349.35" cy="282.16" r="0.7"/><circle cx="350.10" cy="281.30" r="0.7"/><circle cx="350.85" cy="282.47" r="0.7"/><circle cx="351.60" cy="282.25" r="0.7"/><circle cx="352.35" cy="282.30" r="0.7"/><circle cx="353.10" cy="281.92" r="0.7"/><circle cx="353.85" cy="281.97" r="0.7"/><circle cx="354.60" cy="282.18" r="0.7"/><circle cx="355.35" cy="282.02" r="0.7"/><circle cx="356.10" cy="281.98" r="0.7"/><circle cx="356.85" cy="281.75" r="0.7"/><circle cx="357.60" cy="281.86" r="0.7"/><circle cx="358.35" cy="282.10" r="0.7"/><circle cx="359.10" cy="281.50" r="0.7"/><circle cx="359.85" cy="282.19" r="0.7"/><circle cx="360.60" cy="282.34" r="0.7"/></g>
<circle cx="217" cy="280.3" r="0.7" fill="#1f5f9e"/>
<circle cx="264.4" cy="272.1" r="0.7" fill="#1a3050"/>
<circle cx="264.4" cy="276.5" r="0.6" fill="#1f5f9e"/>
<circle cx="264.4" cy="278.5" r="0.6" fill="#1f5f9e"/>
<circle cx="271.4" cy="269.0" r="0.55" fill="#333"/>
<circle cx="271.4" cy="277.2" r="0.55" fill="#333"/>
<circle cx="289.1" cy="274.8" r="0.6" fill="#2b6fb0"/>
<circle cx="307.8" cy="273.0" r="0.6" fill="#2aa0c8"/>
<circle cx="269.7" cy="170.3" r="0.55" fill="#333"/>
<line x1="264.4" y1="276" x2="264.4" y2="283" stroke="#1f5f9e" stroke-width="0.8"/>
<rect x="269.6" y="283.2" width="3.4" height="2.3" fill="#22b8d8"/>
<circle cx="271.2" cy="261.7" r="0.9" fill="#d62020"/>
<rect x="268.7" y="185.0" width="3.2" height="11.6" rx="1.5" fill="#e01818"/>
<rect x="268.3" y="187" width="3.9" height="7" rx="1.5" fill="#e01818"/>
<line x1="211.3" y1="160.5" x2="392.2" y2="160.5" stroke="#555" stroke-width="0.6"/>
<line x1="211.3" y1="285.3" x2="392.2" y2="285.3" stroke="#555" stroke-width="0.6"/>
<line x1="211.3" y1="160.5" x2="211.3" y2="285.3" stroke="#c2d7ea" stroke-width="0.7"/>
<line x1="392.2" y1="160.5" x2="392.2" y2="285.3" stroke="#e8d6cc" stroke-width="0.7"/>
<line x1="211.3" y1="285.30" x2="212.9" y2="285.30" stroke="#c2d7ea" stroke-width="0.5"/>
<text x="209.10000000000002" y="287.00" text-anchor="end" font-family='"Liberation Sans", sans-serif' font-size="4.8" fill="#4f85bc">0</text>
<line x1="211.3" y1="267.47" x2="212.9" y2="267.47" stroke="#c2d7ea" stroke-width="0.5"/>
<text x="209.10000000000002" y="269.17" text-anchor="end" font-family='"Liberation Sans", sans-serif' font-size="4.8" fill="#4f85bc">2</text>
<line x1="211.3" y1="249.64" x2="212.9" y2="249.64" stroke="#c2d7ea" stroke-width="0.5"/>
<text x="209.10000000000002" y="251.34" text-anchor="end" font-family='"Liberation Sans", sans-serif' font-size="4.8" fill="#4f85bc">4</text>
<line x1="211.3" y1="231.82" x2="212.9" y2="231.82" stroke="#c2d7ea" stroke-width="0.5"/>
<text x="209.10000000000002" y="233.52" text-anchor="end" font-family='"Liberation Sans", sans-serif' font-size="4.8" fill="#4f85bc">6</text>
<line x1="211.3" y1="213.99" x2="212.9" y2="213.99" stroke="#c2d7ea" stroke-width="0.5"/>
<text x="209.10000000000002" y="215.69" text-anchor="end" font-family='"Liberation Sans", sans-serif' font-size="4.8" fill="#4f85bc">8</text>
<line x1="211.3" y1="196.16" x2="212.9" y2="196.16" stroke="#c2d7ea" stroke-width="0.5"/>
<text x="209.10000000000002" y="197.86" text-anchor="end" font-family='"Liberation Sans", sans-serif' font-size="4.8" fill="#4f85bc">10</text>
<line x1="211.3" y1="178.33" x2="212.9" y2="178.33" stroke="#c2d7ea" stroke-width="0.5"/>
<text x="209.10000000000002" y="180.03" text-anchor="end" font-family='"Liberation Sans", sans-serif' font-size="4.8" fill="#4f85bc">12</text>
<line x1="211.3" y1="160.50" x2="212.9" y2="160.50" stroke="#c2d7ea" stroke-width="0.5"/>
<text x="209.10000000000002" y="162.20" text-anchor="end" font-family='"Liberation Sans", sans-serif' font-size="4.8" fill="#4f85bc">14</text>
<line x1="392.2" y1="285.30" x2="390.59999999999997" y2="285.30" stroke="#e8d6cc" stroke-width="0.5"/>
<text x="394.3" y="287.00" font-family='"Liberation Sans", sans-serif' font-size="4.8" fill="#c48a7a">-5</text>
<line x1="392.2" y1="260.34" x2="390.59999999999997" y2="260.34" stroke="#e8d6cc" stroke-width="0.5"/>
<text x="394.3" y="262.04" font-family='"Liberation Sans", sans-serif' font-size="4.8" fill="#c48a7a">0</text>
<line x1="392.2" y1="235.38" x2="390.59999999999997" y2="235.38" stroke="#e8d6cc" stroke-width="0.5"/>
<text x="394.3" y="237.08" font-family='"Liberation Sans", sans-serif' font-size="4.8" fill="#c48a7a">5</text>
<line x1="392.2" y1="210.42" x2="390.59999999999997" y2="210.42" stroke="#e8d6cc" stroke-width="0.5"/>
<text x="394.3" y="212.12" font-family='"Liberation Sans", sans-serif' font-size="4.8" fill="#c48a7a">10</text>
<line x1="392.2" y1="185.46" x2="390.59999999999997" y2="185.46" stroke="#e8d6cc" stroke-width="0.5"/>
<text x="394.3" y="187.16" font-family='"Liberation Sans", sans-serif' font-size="4.8" fill="#c48a7a">15</text>
<line x1="392.2" y1="160.50" x2="390.59999999999997" y2="160.50" stroke="#e8d6cc" stroke-width="0.5"/>
<text x="394.3" y="162.20" font-family='"Liberation Sans", sans-serif' font-size="4.8" fill="#c48a7a">20</text>
<line x1="212.10" y1="285.3" x2="212.10" y2="283.7" stroke="#555" stroke-width="0.5"/>
<line x1="212.10" y1="160.5" x2="212.10" y2="162.1" stroke="#555" stroke-width="0.5"/>
<text x="212.10" y="293.2" text-anchor="middle" font-family='"Liberation Sans", sans-serif' font-size="4.9" fill="#333">0</text>
<line x1="241.08" y1="285.3" x2="241.08" y2="283.7" stroke="#555" stroke-width="0.5"/>
<line x1="241.08" y1="160.5" x2="241.08" y2="162.1" stroke="#555" stroke-width="0.5"/>
<text x="241.08" y="293.2" text-anchor="middle" font-family='"Liberation Sans", sans-serif' font-size="4.9" fill="#333">2,000</text>
<line x1="270.06" y1="285.3" x2="270.06" y2="283.7" stroke="#555" stroke-width="0.5"/>
<line x1="270.06" y1="160.5" x2="270.06" y2="162.1" stroke="#555" stroke-width="0.5"/>
<text x="270.06" y="293.2" text-anchor="middle" font-family='"Liberation Sans", sans-serif' font-size="4.9" fill="#333">4,000</text>
<line x1="299.04" y1="285.3" x2="299.04" y2="283.7" stroke="#555" stroke-width="0.5"/>
<line x1="299.04" y1="160.5" x2="299.04" y2="162.1" stroke="#555" stroke-width="0.5"/>
<text x="299.04" y="293.2" text-anchor="middle" font-family='"Liberation Sans", sans-serif' font-size="4.9" fill="#333">6,000</text>
<line x1="328.02" y1="285.3" x2="328.02" y2="283.7" stroke="#555" stroke-width="0.5"/>
<line x1="328.02" y1="160.5" x2="328.02" y2="162.1" stroke="#555" stroke-width="0.5"/>
<text x="328.02" y="293.2" text-anchor="middle" font-family='"Liberation Sans", sans-serif' font-size="4.9" fill="#333">8,000</text>
<line x1="357.00" y1="285.3" x2="357.00" y2="283.7" stroke="#555" stroke-width="0.5"/>
<line x1="357.00" y1="160.5" x2="357.00" y2="162.1" stroke="#555" stroke-width="0.5"/>
<text x="357.00" y="293.2" text-anchor="middle" font-family='"Liberation Sans", sans-serif' font-size="4.9" fill="#333">10,000</text>
<line x1="385.98" y1="285.3" x2="385.98" y2="283.7" stroke="#555" stroke-width="0.5"/>
<line x1="385.98" y1="160.5" x2="385.98" y2="162.1" stroke="#555" stroke-width="0.5"/>
<text x="385.98" y="293.2" text-anchor="middle" font-family='"Liberation Sans", sans-serif' font-size="4.9" fill="#333">12,000</text>
<text x="301.9" y="299.7" text-anchor="middle" font-family='"Liberation Sans", sans-serif' font-size="5.6" fill="#333">Epochs</text>
<text transform="translate(200.6,222.7) rotate(-90)" text-anchor="middle" font-family='"Liberation Sans", sans-serif' font-size="6.2" fill="#4f85bc"><tspan font-style="italic">S</tspan><tspan font-size="3.7" dy="-2.2">2</tspan><tspan dy="2.2"> (m</tspan><tspan font-size="3.7" dy="-2.2">2</tspan><tspan dy="2.2">)</tspan></text>
<text transform="translate(400.6,227.6) rotate(-90)" text-anchor="middle" font-family='"Liberation Sans", sans-serif' font-style="italic" font-size="5.2" fill="#c48a7a">D</text>
<rect x="268.4" y="158.7" width="5.3" height="127.7" fill="none" stroke="#444" stroke-width="0.7"/>
<line x1="273.7" y1="221.6" x2="406.5" y2="221.6" stroke="#6a6a6a" stroke-width="0.8"/>
<path d="M409.6 221.6 L405.0 219.8 L405.0 223.4 Z" fill="#111"/>
<text x="327.7" y="220.0" font-family='"Liberation Sans", sans-serif' font-size="5.4" fill="#2a2a2a" textLength="18.7" lengthAdjust="spacingAndGlyphs">Zoom in</text>
<circle cx="336.6" cy="169.0" r="0.5" fill="#222"/>
<circle cx="336.6" cy="178.2" r="1.0" fill="#3cc4e4"/>
<line x1="329.2" y1="187.4" x2="343.3" y2="187.4" stroke="#7676bd" stroke-width="0.95" stroke-dasharray="3.4,2.2"/>
<circle cx="336.6" cy="193.3" r="0.75" fill="#d62020"/>
<line x1="329.2" y1="199.8" x2="343.3" y2="199.8" stroke="#cc6e6a" stroke-width="0.75" stroke-dasharray="3.2,2.2"/>
<text x="344.7" y="172.2" font-family='"Liberation Sans", sans-serif' font-size="5.2" fill="#333"><tspan font-style="italic">S</tspan><tspan font-size="3.5" dy="-2.2">2</tspan><tspan dy="2.2"></tspan></text>
<text x="344.7" y="180.4" font-family='"Liberation Sans", sans-serif' font-size="5.2" fill="#333"><tspan font-style="italic">S</tspan><tspan font-size="3.5" dy="-2.2">2</tspan><tspan dy="2.2" textLength="34.6" lengthAdjust="spacingAndGlyphs"> after exclusion</tspan></text>
<text x="344.7" y="189.2" font-family='"Liberation Sans", sans-serif' font-size="5.2" fill="#333"><tspan textLength="29.5" lengthAdjust="spacingAndGlyphs">Threshold for </tspan><tspan font-style="italic">S</tspan><tspan font-size="3.5" dy="-2.2">2</tspan></text>
<text x="344.7" y="195.3" font-family='"Liberation Sans", sans-serif' font-size="5.2" fill="#333">Detector <tspan font-style="italic">D</tspan></text>
<text x="344.7" y="201.7" font-family='"Liberation Sans", sans-serif' font-size="5.2" fill="#333">Threshold for <tspan font-style="italic">D</tspan></text>
<rect x="409.90000000000003" y="284.0" width="88.6" height="1.6" fill="#3ab6d6"/>
<g fill="#1f5f9e"><circle cx="412.60" cy="283.35" r="0.45"/><circle cx="413.70" cy="283.80" r="0.45"/><circle cx="414.80" cy="283.53" r="0.45"/><circle cx="417.00" cy="283.50" r="0.45"/><circle cx="418.10" cy="283.82" r="0.45"/><circle cx="419.20" cy="283.26" r="0.45"/><circle cx="421.40" cy="283.59" r="0.45"/><circle cx="423.60" cy="283.43" r="0.45"/><circle cx="424.70" cy="282.69" r="0.45"/><circle cx="425.80" cy="283.79" r="0.45"/><circle cx="426.90" cy="283.44" r="0.45"/><circle cx="428.00" cy="283.49" r="0.45"/><circle cx="429.10" cy="283.67" r="0.45"/><circle cx="430.20" cy="283.38" r="0.45"/><circle cx="432.40" cy="282.68" r="0.45"/><circle cx="437.90" cy="282.68" r="0.45"/><circle cx="440.10" cy="283.29" r="0.45"/><circle cx="441.20" cy="282.94" r="0.45"/><circle cx="443.40" cy="283.77" r="0.45"/><circle cx="444.50" cy="283.28" r="0.45"/><circle cx="447.80" cy="283.33" r="0.45"/><circle cx="450.00" cy="282.27" r="0.45"/><circle cx="451.10" cy="283.33" r="0.45"/><circle cx="453.30" cy="283.36" r="0.45"/><circle cx="454.40" cy="283.82" r="0.45"/><circle cx="456.60" cy="283.74" r="0.45"/><circle cx="457.70" cy="283.44" r="0.45"/><circle cx="459.90" cy="282.92" r="0.45"/><circle cx="461.00" cy="283.47" r="0.45"/><circle cx="462.10" cy="283.18" r="0.45"/><circle cx="464.30" cy="283.14" r="0.45"/><circle cx="465.40" cy="283.27" r="0.45"/><circle cx="467.60" cy="283.36" r="0.45"/><circle cx="469.80" cy="283.33" r="0.45"/><circle cx="473.10" cy="283.83" r="0.45"/><circle cx="474.20" cy="283.61" r="0.45"/><circle cx="475.30" cy="283.16" r="0.45"/><circle cx="477.50" cy="283.45" r="0.45"/><circle cx="478.60" cy="283.61" r="0.45"/><circle cx="479.70" cy="283.85" r="0.45"/><circle cx="480.80" cy="283.80" r="0.45"/><circle cx="481.90" cy="283.33" r="0.45"/><circle cx="483.00" cy="283.57" r="0.45"/><circle cx="484.10" cy="283.42" r="0.45"/><circle cx="486.30" cy="283.39" r="0.45"/><circle cx="487.40" cy="283.52" r="0.45"/><circle cx="488.50" cy="283.48" r="0.45"/><circle cx="490.70" cy="283.77" r="0.45"/><circle cx="491.80" cy="283.62" r="0.45"/><circle cx="492.90" cy="283.24" r="0.45"/><circle cx="494.00" cy="282.64" r="0.45"/><circle cx="495.10" cy="283.55" r="0.45"/><circle cx="496.20" cy="283.40" r="0.45"/></g>
<circle cx="486.6" cy="268.4" r="0.5" fill="#333"/>
<circle cx="489.0" cy="277.6" r="0.5" fill="#333"/>
<circle cx="489.5" cy="281.3" r="0.45" fill="#333"/>
<circle cx="415.5" cy="170.5" r="0.5" fill="#333"/>
<circle cx="415.5" cy="170.5" r="3.9" fill="none" stroke="#3a3aa8" stroke-width="0.7"/>
<circle cx="471.4" cy="261.5" r="3.9" fill="none" stroke="#d83a3a" stroke-width="0.75"/>
<rect x="470.5" y="260.6" width="1.8" height="1.8" fill="#a82020"/>
<circle cx="415.60" cy="193.62" r="1.15" fill="#d41414"/>
<circle cx="416.72" cy="191.75" r="1.15" fill="#d41414"/>
<circle cx="417.84" cy="188.68" r="1.15" fill="#d41414"/>
<circle cx="418.96" cy="187.41" r="1.15" fill="#d41414"/>
<circle cx="420.08" cy="187.25" r="1.15" fill="#d41414"/>
<circle cx="421.20" cy="188.86" r="1.15" fill="#d41414"/>
<circle cx="422.32" cy="188.87" r="1.15" fill="#d41414"/>
<circle cx="423.44" cy="190.89" r="1.15" fill="#d41414"/>
<circle cx="424.56" cy="191.28" r="1.15" fill="#d41414"/>
<circle cx="425.68" cy="191.82" r="1.15" fill="#d41414"/>
<circle cx="426.80" cy="190.20" r="1.15" fill="#d41414"/>
<circle cx="427.92" cy="190.01" r="1.15" fill="#d41414"/>
<circle cx="429.04" cy="188.27" r="1.15" fill="#d41414"/>
<circle cx="430.16" cy="189.59" r="1.15" fill="#d41414"/>
<circle cx="431.28" cy="189.71" r="1.15" fill="#d41414"/>
<circle cx="432.40" cy="191.51" r="1.15" fill="#d41414"/>
<circle cx="433.52" cy="191.65" r="1.15" fill="#d41414"/>
<circle cx="434.64" cy="190.84" r="1.15" fill="#d41414"/>
<circle cx="435.76" cy="188.72" r="1.15" fill="#d41414"/>
<circle cx="436.88" cy="188.68" r="1.15" fill="#d41414"/>
<circle cx="438.00" cy="186.40" r="1.15" fill="#d41414"/>
<circle cx="439.12" cy="188.01" r="1.15" fill="#d41414"/>
<circle cx="440.24" cy="187.90" r="1.15" fill="#d41414"/>
<circle cx="441.36" cy="189.94" r="1.15" fill="#d41414"/>
<circle cx="442.48" cy="190.22" r="1.15" fill="#d41414"/>
<circle cx="443.60" cy="191.95" r="1.15" fill="#d41414"/>
<circle cx="444.72" cy="192.18" r="1.15" fill="#d41414"/>
<circle cx="445.84" cy="194.41" r="1.15" fill="#d41414"/>
<circle cx="446.96" cy="194.52" r="1.15" fill="#d41414"/>
<circle cx="448.08" cy="195.87" r="1.15" fill="#d41414"/>
<circle cx="449.20" cy="194.98" r="1.15" fill="#d41414"/>
<circle cx="450.32" cy="194.12" r="1.15" fill="#d41414"/>
<circle cx="451.44" cy="192.85" r="1.15" fill="#d41414"/>
<circle cx="452.56" cy="193.27" r="1.15" fill="#d41414"/>
<circle cx="453.68" cy="191.80" r="1.15" fill="#d41414"/>
<circle cx="454.80" cy="192.19" r="1.15" fill="#d41414"/>
<circle cx="455.92" cy="189.90" r="1.15" fill="#d41414"/>
<circle cx="457.04" cy="189.61" r="1.15" fill="#d41414"/>
<circle cx="458.16" cy="188.11" r="1.15" fill="#d41414"/>
<circle cx="459.28" cy="188.48" r="1.15" fill="#d41414"/>
<circle cx="460.40" cy="188.60" r="1.15" fill="#d41414"/>
<circle cx="461.52" cy="190.01" r="1.15" fill="#d41414"/>
<circle cx="462.64" cy="188.65" r="1.15" fill="#d41414"/>
<circle cx="463.76" cy="189.28" r="1.15" fill="#d41414"/>
<circle cx="464.88" cy="188.78" r="1.15" fill="#d41414"/>
<circle cx="466.00" cy="189.84" r="1.15" fill="#d41414"/>
<circle cx="467.12" cy="189.62" r="1.15" fill="#d41414"/>
<circle cx="468.24" cy="191.32" r="1.15" fill="#d41414"/>
<circle cx="469.36" cy="191.16" r="1.15" fill="#d41414"/>
<circle cx="470.48" cy="192.56" r="1.15" fill="#d41414"/>
<line x1="409.6" y1="160.5" x2="498.8" y2="160.5" stroke="#555" stroke-width="0.6"/>
<line x1="409.6" y1="285.3" x2="498.8" y2="285.3" stroke="#555" stroke-width="0.6"/>
<line x1="409.6" y1="160.5" x2="409.6" y2="285.3" stroke="#c2d7ea" stroke-width="0.7"/>
<line x1="498.8" y1="160.5" x2="498.8" y2="285.3" stroke="#e8d6cc" stroke-width="0.7"/>
<line x1="409.6" y1="285.30" x2="411.20000000000005" y2="285.30" stroke="#c2d7ea" stroke-width="0.5"/>
<text x="407.40000000000003" y="287.00" text-anchor="end" font-family='"Liberation Sans", sans-serif' font-size="4.8" fill="#4f85bc">0</text>
<line x1="409.6" y1="267.47" x2="411.20000000000005" y2="267.47" stroke="#c2d7ea" stroke-width="0.5"/>
<text x="407.40000000000003" y="269.17" text-anchor="end" font-family='"Liberation Sans", sans-serif' font-size="4.8" fill="#4f85bc">2</text>
<line x1="409.6" y1="249.64" x2="411.20000000000005" y2="249.64" stroke="#c2d7ea" stroke-width="0.5"/>
<text x="407.40000000000003" y="251.34" text-anchor="end" font-family='"Liberation Sans", sans-serif' font-size="4.8" fill="#4f85bc">4</text>
<line x1="409.6" y1="231.82" x2="411.20000000000005" y2="231.82" stroke="#c2d7ea" stroke-width="0.5"/>
<text x="407.40000000000003" y="233.52" text-anchor="end" font-family='"Liberation Sans", sans-serif' font-size="4.8" fill="#4f85bc">6</text>
<line x1="409.6" y1="213.99" x2="411.20000000000005" y2="213.99" stroke="#c2d7ea" stroke-width="0.5"/>
<text x="407.40000000000003" y="215.69" text-anchor="end" font-family='"Liberation Sans", sans-serif' font-size="4.8" fill="#4f85bc">8</text>
<line x1="409.6" y1="196.16" x2="411.20000000000005" y2="196.16" stroke="#c2d7ea" stroke-width="0.5"/>
<text x="407.40000000000003" y="197.86" text-anchor="end" font-family='"Liberation Sans", sans-serif' font-size="4.8" fill="#4f85bc">10</text>
<line x1="409.6" y1="178.33" x2="411.20000000000005" y2="178.33" stroke="#c2d7ea" stroke-width="0.5"/>
<text x="407.40000000000003" y="180.03" text-anchor="end" font-family='"Liberation Sans", sans-serif' font-size="4.8" fill="#4f85bc">12</text>
<line x1="409.6" y1="160.50" x2="411.20000000000005" y2="160.50" stroke="#c2d7ea" stroke-width="0.5"/>
<text x="407.40000000000003" y="162.20" text-anchor="end" font-family='"Liberation Sans", sans-serif' font-size="4.8" fill="#4f85bc">14</text>
<line x1="498.8" y1="285.30" x2="497.2" y2="285.30" stroke="#e8d6cc" stroke-width="0.5"/>
<text x="500.90000000000003" y="287.00" font-family='"Liberation Sans", sans-serif' font-size="4.8" fill="#c48a7a">-5</text>
<line x1="498.8" y1="260.34" x2="497.2" y2="260.34" stroke="#e8d6cc" stroke-width="0.5"/>
<text x="500.90000000000003" y="262.04" font-family='"Liberation Sans", sans-serif' font-size="4.8" fill="#c48a7a">0</text>
<line x1="498.8" y1="235.38" x2="497.2" y2="235.38" stroke="#e8d6cc" stroke-width="0.5"/>
<text x="500.90000000000003" y="237.08" font-family='"Liberation Sans", sans-serif' font-size="4.8" fill="#c48a7a">5</text>
<line x1="498.8" y1="210.42" x2="497.2" y2="210.42" stroke="#e8d6cc" stroke-width="0.5"/>
<text x="500.90000000000003" y="212.12" font-family='"Liberation Sans", sans-serif' font-size="4.8" fill="#c48a7a">10</text>
<line x1="498.8" y1="185.46" x2="497.2" y2="185.46" stroke="#e8d6cc" stroke-width="0.5"/>
<text x="500.90000000000003" y="187.16" font-family='"Liberation Sans", sans-serif' font-size="4.8" fill="#c48a7a">15</text>
<line x1="498.8" y1="160.50" x2="497.2" y2="160.50" stroke="#e8d6cc" stroke-width="0.5"/>
<text x="500.90000000000003" y="162.20" font-family='"Liberation Sans", sans-serif' font-size="4.8" fill="#c48a7a">20</text>
<line x1="415.10" y1="285.3" x2="415.10" y2="283.7" stroke="#555" stroke-width="0.5"/>
<line x1="415.10" y1="160.5" x2="415.10" y2="162.1" stroke="#555" stroke-width="0.5"/>
<text x="415.10" y="293.2" text-anchor="middle" font-family='"Liberation Sans", sans-serif' font-size="4.9" fill="#333">4,000</text>
<line x1="443.34" y1="285.3" x2="443.34" y2="283.7" stroke="#555" stroke-width="0.5"/>
<line x1="443.34" y1="160.5" x2="443.34" y2="162.1" stroke="#555" stroke-width="0.5"/>
<text x="443.34" y="293.2" text-anchor="middle" font-family='"Liberation Sans", sans-serif' font-size="4.9" fill="#333">4,050</text>
<line x1="471.57" y1="285.3" x2="471.57" y2="283.7" stroke="#555" stroke-width="0.5"/>
<line x1="471.57" y1="160.5" x2="471.57" y2="162.1" stroke="#555" stroke-width="0.5"/>
<text x="471.57" y="293.2" text-anchor="middle" font-family='"Liberation Sans", sans-serif' font-size="4.9" fill="#333">4,100</text>
<line x1="499.81" y1="285.3" x2="499.81" y2="283.7" stroke="#555" stroke-width="0.5"/>
<line x1="499.81" y1="160.5" x2="499.81" y2="162.1" stroke="#555" stroke-width="0.5"/>
<text x="499.81" y="293.2" text-anchor="middle" font-family='"Liberation Sans", sans-serif' font-size="4.9" fill="#333">4,150</text>
</svg>
</body></html>
